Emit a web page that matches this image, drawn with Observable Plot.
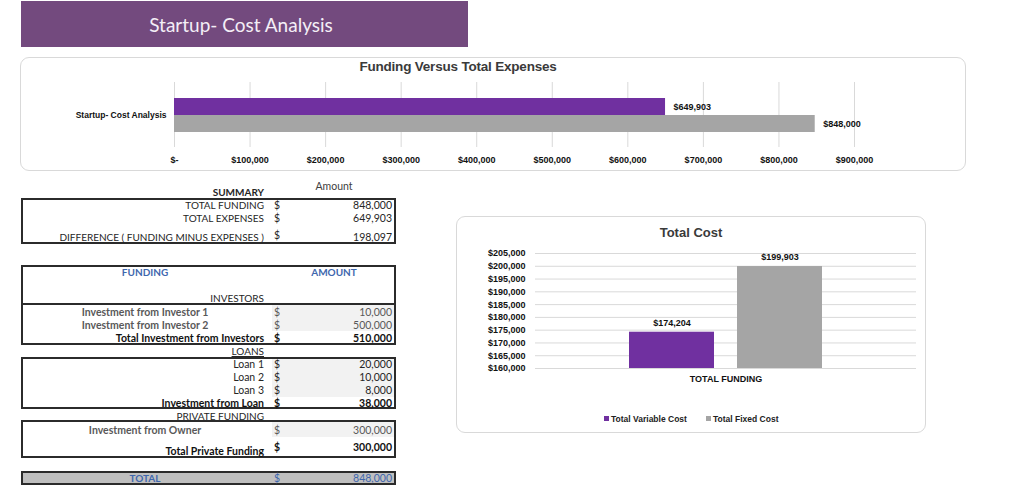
<!DOCTYPE html>
<html><head><meta charset="utf-8">
<script src="https://cdn.jsdelivr.net/npm/d3@7"></script>
<script src="https://cdn.jsdelivr.net/npm/@observablehq/plot@0.6"></script>
<style>
body{margin:0;background:#fff;}
#page{position:relative;width:1024px;height:499px;overflow:hidden;font-family:Lato,"Liberation Sans",sans-serif;}
.t{position:absolute;white-space:nowrap;line-height:1;transform:translateY(-50%);}
.box{position:absolute;border:2px solid #2b2b2b;box-sizing:border-box;}
.cell{position:absolute;background:#F2F2F2;}
.card{position:absolute;border:1px solid #d9d9d9;border-radius:9px;box-sizing:border-box;background:#fff;}
.plotwrap{position:absolute;}
.plotwrap svg{display:block;}
</style></head>
<body><div id="page"></div>
<script>
// ---------- data ----------
const pageTitle = "Startup- Cost Analysis";
const fundingCategory = ["Startup- Cost Analysis"];
const fundingSeries = ["Total Expenses", "Total Funding"];
const fundingValues = [649903, 848000];
const fundingTicks = [0, 100000, 200000, 300000, 400000, 500000, 600000, 700000, 800000, 900000];

const costCategory = ["TOTAL FUNDING"];
const costSeries = ["Total Variable Cost", "Total Fixed Cost"];
const costValues = [174204, 199903];
const costTicks = [160000, 165000, 170000, 175000, 180000, 185000, 190000, 195000, 200000, 205000];

const summaryLabels = ["TOTAL FUNDING", "TOTAL EXPENSES", "DIFFERENCE  ( FUNDING MINUS EXPENSES )"];
const summaryValues = [848000, 649903, 198097];
const investorLabels = ["Investment from Investor 1", "Investment from Investor 2"];
const investorValues = [10000, 500000];
const loanLabels = ["Loan 1", "Loan 2", "Loan 3"];
const loanValues = [20000, 10000, 8000];
const privateLabels = ["Investment from Owner"];
const privateValues = [300000];
const subtotalLabels = ["Total Investment from Investors", "Investment from Loan", "Total Private Funding"];
const subtotalValues = [510000, 38000, 300000];
const grandTotalLabel = "TOTAL";
const grandTotalValue = 848000;

// ---------- helpers ----------
const page = document.getElementById("page");
const num = d3.format(",");
const money = v => v === 0 ? "$-" : "$" + num(v);
const purple = "#7030A0", grey = "#A5A5A5";

function el(cls, css) {
  const d = document.createElement("div");
  d.className = cls;
  Object.assign(d.style, css);
  page.appendChild(d);
  return d;
}
function T(text, x, y, align, css = {}) {
  const d = el("t", css);
  d.textContent = text;
  d.style.top = y + "px";
  if (align === "right") d.style.right = (1024 - x) + "px";
  else if (align === "center") { d.style.left = x + "px"; d.style.transform = "translate(-50%,-50%)"; }
  else d.style.left = x + "px";
  return d;
}

// ---------- banner ----------
el("", {position: "absolute", left: "21px", top: "1px", width: "447px", height: "46px", background: "#734A7E"});
T(pageTitle, 241, 24, "center", {color: "#F4EEF6", fontSize: "19px"});

// ---------- top chart ----------
el("card", {left: "20px", top: "57px", width: "946px", height: "114px"});
T("Funding Versus Total Expenses", 458, 67, "center", {fontFamily: "'Liberation Sans',Arial,sans-serif", fontWeight: "bold", fontSize: "13.5px", color: "#3a3a3a", letterSpacing: "-0.2px"});

const fundingData = fundingSeries.map((s, i) => ({cat: fundingCategory[0], series: s, value: fundingValues[i]}));
const topPlot = Plot.plot({
  width: 946, height: 114,
  marginLeft: 154, marginRight: 112, marginTop: 25, marginBottom: 24,
  style: {fontFamily: "'Liberation Sans',Arial,sans-serif", fontWeight: "bold", fontSize: "9px", color: "#111", background: "transparent"},
  x: {domain: [0, 900000]},
  y: {domain: fundingSeries, paddingInner: 0, paddingOuter: 0.91, axis: null},
  fy: {domain: fundingCategory, paddingInner: 0, paddingOuter: 0},
  color: {domain: fundingSeries, range: [purple, grey]},
  marks: [
    Plot.ruleX(fundingTicks, {stroke: "#d9d9d9", strokeWidth: 1}),
    Plot.axisX(fundingTicks, {tickSize: 0, tickPadding: 9, tickFormat: money, label: null, fontSize: 9}),
    Plot.axisFy({anchor: "left", tickSize: 0, tickPadding: 8, label: null, fontSize: 8.5}),
    Plot.barX(fundingData, {x: "value", y: "series", fy: "cat", fill: "series"}),
    Plot.text(fundingData, {x: "value", y: "series", fy: "cat", text: d => money(d.value), textAnchor: "start", dx: 8, fontSize: 9, fill: "#111"})
  ]
});
const w1 = el("plotwrap", {left: "20px", top: "57px"});
w1.appendChild(topPlot);

// ---------- bottom chart ----------
el("card", {left: "456px", top: "216px", width: "470px", height: "217px"});
T("Total Cost", 691, 232, "center", {fontFamily: "'Liberation Sans',Arial,sans-serif", fontWeight: "bold", fontSize: "13px", color: "#3a3a3a"});

const costData = costSeries.map((s, i) => ({cat: costCategory[0], series: s, value: costValues[i]}));
const botPlot = Plot.plot({
  width: 470, height: 217,
  marginLeft: 79, marginRight: 10, marginTop: 37, marginBottom: 65,
  style: {fontFamily: "'Liberation Sans',Arial,sans-serif", fontWeight: "bold", fontSize: "9px", color: "#111", background: "transparent"},
  x: {domain: costSeries, paddingInner: 0.21, paddingOuter: 0.853, axis: null},
  fx: {domain: costCategory, paddingInner: 0, paddingOuter: 0},
  y: {domain: [costTicks[0], costTicks[costTicks.length - 1]]},
  color: {domain: costSeries, range: [purple, grey]},
  marks: [
    Plot.ruleY(costTicks, {stroke: "#d9d9d9", strokeWidth: 1}),
    Plot.axisY(costTicks, {tickSize: 0, tickPadding: 10, tickFormat: money, label: null, fontSize: 9}),
    Plot.axisFx({anchor: "bottom", tickSize: 0, tickPadding: 7, label: null, fontSize: 9}),
    Plot.barY(costData, {fx: "cat", x: "series", y1: costTicks[0], y2: "value", fill: "series"}),
    Plot.text(costData, {fx: "cat", x: "series", y: "value", dy: -9, text: d => money(d.value), fontSize: 9, fill: "#111"})
  ]
});
const w2 = el("plotwrap", {left: "456px", top: "216px"});
w2.appendChild(botPlot);

// legend
const legY = 419;
const legX = [604, 706];
costSeries.forEach((s, i) => {
  el("", {position: "absolute", left: legX[i] + "px", top: (legY - 3) + "px", width: "5px", height: "5px", background: i === 0 ? purple : grey});
  T(s, legX[i] + 7, legY, "left", {fontFamily: "'Liberation Sans',Arial,sans-serif", fontWeight: "bold", fontSize: "8.5px", color: "#222"});
});

// ---------- summary table ----------
const tf = {fontSize: "10.5px", color: "#262626"};
const cf = {fontSize: "10px", color: "#262626"};
T("SUMMARY", 264, 192, "right", {...cf, fontWeight: "bold"});
T("Amount", 334, 186, "center", {...tf, color: "#404040"});
el("box", {left: "21px", top: "198px", width: "375px", height: "46px"});
const sumY = [205, 218, 237];
summaryLabels.forEach((l, i) => {
  T(l, 264, sumY[i], "right", cf);
  T("$", 274, sumY[i] - (i === 2 ? 2 : 0), "left", tf);
  T(num(summaryValues[i]), 392, sumY[i], "right", tf);
});

// ---------- funding table ----------
const blue = "#3F67AE";
el("box", {left: "21px", top: "265px", width: "375px", height: "80px"});
el("", {position: "absolute", left: "21px", top: "303px", width: "375px", height: "2px", background: "#2b2b2b"});
el("cell", {left: "272px", top: "305px", width: "122px", height: "26px"});
T("FUNDING", 145, 272, "center", {...cf, color: blue, fontWeight: "bold"});
T("AMOUNT", 334, 272, "center", {...cf, color: blue, fontWeight: "bold"});
T("INVESTORS", 264, 298, "right", {...cf, textDecoration: "underline"});
const invY = [312, 324.5];
investorLabels.forEach((l, i) => {
  T(l, 145, invY[i], "center", {...tf, color: "#595959", fontWeight: "bold"});
  T("$", 274, invY[i], "left", {...tf, color: "#595959"});
  T(num(investorValues[i]), 392, invY[i], "right", {...tf, color: "#595959"});
});
T(subtotalLabels[0], 264, 338, "right", {...tf, fontWeight: "bold", color: "#111"});
T("$", 274, 338, "left", {...tf, fontWeight: "bold", color: "#111"});
T(num(subtotalValues[0]), 392, 338, "right", {...tf, fontWeight: "bold", color: "#111"});

T("LOANS", 264, 350.5, "right", {...cf, textDecoration: "underline"});
el("box", {left: "21px", top: "357px", width: "375px", height: "52px"});
el("cell", {left: "272px", top: "359px", width: "122px", height: "38px"});
const loanY = [364, 377, 390];
loanLabels.forEach((l, i) => {
  T(l, 264, loanY[i], "right", tf);
  T("$", 274, loanY[i], "left", tf);
  T(num(loanValues[i]), 392, loanY[i], "right", tf);
});
T(subtotalLabels[1], 264, 403, "right", {...tf, fontWeight: "bold", color: "#111"});
T("$", 274, 403, "left", {...tf, fontWeight: "bold", color: "#111"});
T(num(subtotalValues[1]), 392, 403, "right", {...tf, fontWeight: "bold", color: "#111"});

T("PRIVATE FUNDING", 264, 416, "right", {...cf, textDecoration: "underline"});
el("box", {left: "21px", top: "420px", width: "375px", height: "38px"});
el("cell", {left: "272px", top: "422px", width: "122px", height: "15px"});
privateLabels.forEach((l, i) => {
  T(l, 145, 430, "center", {...tf, color: "#595959", fontWeight: "bold"});
  T("$", 274, 430, "left", {...tf, color: "#595959"});
  T(num(privateValues[i]), 392, 430, "right", {...tf, color: "#595959"});
});
T(subtotalLabels[2], 264, 451, "right", {...tf, fontWeight: "bold", color: "#111"});
T("$", 274, 447, "left", {...tf, fontWeight: "bold", color: "#111"});
T(num(subtotalValues[2]), 392, 447, "right", {...tf, fontWeight: "bold", color: "#111"});

el("box", {left: "21px", top: "471px", width: "375px", height: "14px", background: "#BFBFBF"});
T(grandTotalLabel, 145, 477.5, "center", {...cf, color: blue, fontWeight: "bold"});
T("$", 274, 477.5, "left", {...tf, color: blue});
T(num(grandTotalValue), 392, 477.5, "right", {...tf, color: blue});
</script></body></html>
